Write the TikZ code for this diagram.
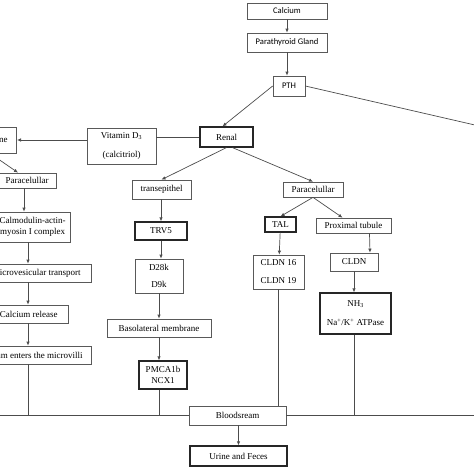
\documentclass[tikz,border=0pt]{standalone}
\usepackage{fontspec}
\setmainfont{Liberation Serif}
\newfontfamily\calibfont{Carlito}
\usetikzlibrary{arrows.meta}
\usetikzlibrary{positioning}
\tikzstyle{box}=[draw=black!65,line width=0.7pt,rectangle,inner sep=1pt,font=\fontsize{9}{11}\selectfont,align=center]
\tikzstyle{heavybox}=[box,draw=black!85,line width=1.2pt]
\tikzstyle{sansbox}=[box,font=\calibfont\fontsize{8.6}{10}\selectfont]
\tikzstyle{joint}=[draw=black!70,line width=0.7pt]
\tikzstyle{flow}=[joint,-{Latex[length=4pt,width=3.5pt]}]

\begin{document}
\begin{tikzpicture}[x=1pt,y=-1pt]
\useasboundingbox (0,0) rectangle (474,474);
\clip (0,0) rectangle (474,474);
% top of the chain
\node [sansbox,minimum width=80,minimum height=16] (cal) at (287,11) {Calcium};
\node [sansbox,minimum width=80,minimum height=19] (ptg) at (287,42.5) {Parathyroid Gland};
\node [sansbox,minimum width=32,minimum height=20] (pth) at (289,86) {PTH};
\node [heavybox,minimum width=53,minimum height=20] (ren) at (226.5,137) {Renal};
\node [box,minimum width=69,minimum height=36] (vit) at (121.5,146) {Vitamin D\textsubscript{3}\\[8pt](calcitriol)};

% intestine side, cut off at the left edge
\node [box,anchor=east,minimum height=26,inner xsep=9pt] (int) at (17,140) {Intestine};
\node [box,anchor=east,minimum height=15,inner xsep=8pt] (pcl) at (57,180.5) {Paracelullar};
\node [box,anchor=east,minimum height=30,inner xsep=5pt] (cam) at (71,227) {Calmodulin-actin-\\myosin I complex};
\node [box,anchor=east,minimum height=18,inner xsep=11pt] (mvt) at (92,273) {Microvesicular transport};
\node [box,anchor=east,minimum height=18,inner xsep=11pt] (cre) at (69,314) {Calcium release};
\node [box,anchor=east,minimum height=18,inner xsep=9pt] (cem) at (92,355) {Calcium enters the microvilli};

% renal transepithelial
\node [box,minimum width=59,minimum height=19] (tep) at (161.5,189.5) {transepithel};
\node [heavybox,minimum width=52,minimum height=18] (trv) at (161,231) {TRV5};
\node [box,minimum width=48,minimum height=34] (dk) at (159,276) {D28k\\[6pt]D9k};
\node [box,minimum width=104,minimum height=18] (bas) at (159,328) {Basolateral membrane};
\node [heavybox,minimum width=48,minimum height=28] (pmc) at (163,375) {PMCA1b\\NCX1};

% renal paracellular
\node [box,minimum width=60,minimum height=15] (pcr) at (313,189.5) {Paracelullar};
\node [heavybox,minimum width=31,minimum height=15] (tal) at (280.5,224.5) {TAL};
\node [box,minimum width=75,minimum height=15] (prx) at (353.5,225.5) {Proximal tubule};
\node [box,minimum width=51,minimum height=34] (cl16) at (278.5,272) {CLDN 16\\[7pt]CLDN 19};
\node [box,minimum width=48,minimum height=18] (cld) at (354,262) {CLDN};
\node [heavybox,minimum width=71,minimum height=41] (nh) at (355.5,313.5) {NH\textsubscript{3}\\[8pt]Na\textsuperscript{+}/K\textsuperscript{+} ATPase};

% bottom
\node [box,minimum width=97,minimum height=19] (blo) at (237.5,415.5) {Bloodsream};
\node [heavybox,minimum width=97,minimum height=20] (uri) at (238.5,456) {Urine and Feces};

\coordinate (lx0) at (-5,0);
\coordinate (lx1) at (18,0);
\coordinate (lx2) at (24,0);
\coordinate (lx3) at (28,0);
\coordinate (ivx) at (-10,0);
\coordinate (rx0) at (480,0);
\coordinate (bone) at (514,134);

\draw [flow] (cal) -- (ptg);
\draw [flow] (ptg) -- (pth.north -| ptg);
\draw [flow] (pth.west) -- ([xshift=-4pt]ren.north);
\draw [joint] (pth.east) -- (bone);
\draw [joint] (ren.west) -- (ren.west -| vit.east);
\draw [flow] (vit.west |- int) -- (int.east);

\draw [flow] (int.south -| ivx) -- (pcl.north -| lx1);
\draw [flow] (pcl.south -| lx2) -- (cam.north -| lx2);
\draw [flow] (cam.south -| lx3) -- (mvt.north -| lx3);
\draw [flow] (mvt.south -| lx3) -- (cre.north -| lx3);
\draw [flow] (cre.south -| lx3) -- (cem.north -| lx3);
\draw [joint] (cem.south -| lx3) -- (blo.west -| lx3);

\draw [flow] (ren.south) -- (tep.north);
\draw [flow] (tep.south -| trv) -- (trv.north);
\draw [flow] (trv.south) -- (dk.north -| trv);
\draw [flow] (dk.south) -- (bas.north -| dk);
\draw [flow] (bas.south) -- (pmc.north -| bas);
\draw [joint] (pmc.south -| bas) -- (blo.west -| bas);

\draw [flow] ([xshift=6pt]ren.south) -- (pcr.north);
\draw [flow] (pcr.south) -- (tal.north);
\draw [flow] (pcr.south) -- ([xshift=-11pt]prx.north);
\draw [flow] (tal) -- (cl16);
\draw [flow] ([xshift=16pt]prx.south) -- ([xshift=16pt]cld.north);
\draw [flow] (cld.south) -- (nh.north -| cld);
\draw [joint] (cl16.south) -- (blo.north -| cl16);
\draw [joint] (nh.south -| cld) -- (blo.east -| cld);

\draw [joint] (blo.west) -- (blo.west -| lx0);
\draw [joint] (blo.east) -- (blo.east -| rx0);
\draw [flow] (blo.south -| uri) -- (uri.north);
\end{tikzpicture}
\end{document}
